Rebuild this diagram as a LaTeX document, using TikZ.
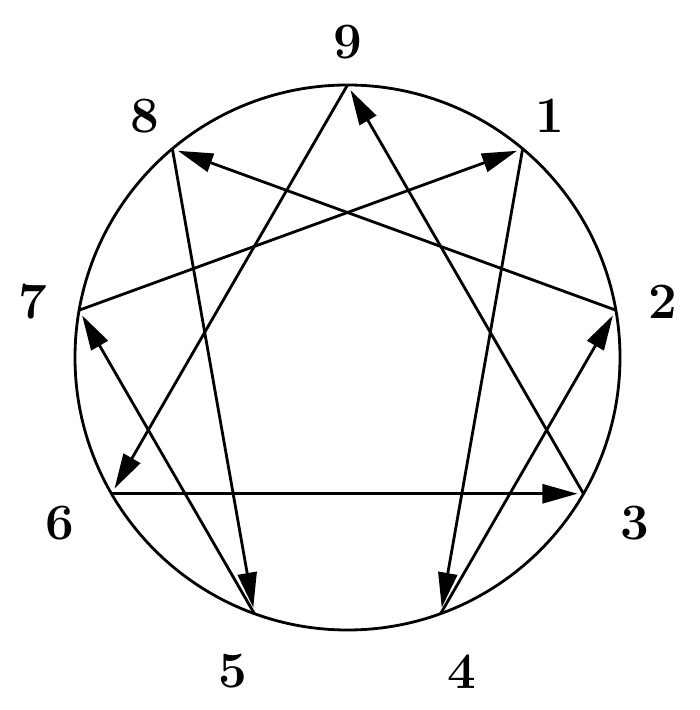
\documentclass[tikz,border=0pt]{standalone}
\usetikzlibrary{arrows.meta,calc}
\begin{document}
\begin{tikzpicture}[line width=1.6pt,
    tip/.style={-{Triangle[length=0.7cm,width=0.38cm]},shorten >=0.12cm},
    num/.style={font=\fontsize{29}{30}\selectfont\bfseries}]
    \useasboundingbox (0,0) rectangle (14,14.2);
    \coordinate (C) at (6.95,7.05);
    \draw (C) circle (5.45);
    \coordinate (P9) at ($(C)+(90:5.45)$);
    \coordinate (P1) at ($(C)+(50:5.45)$);
    \coordinate (P2) at ($(C)+(10:5.45)$);
    \coordinate (P3) at ($(C)+(-30:5.45)$);
    \coordinate (P4) at ($(C)+(-70:5.45)$);
    \coordinate (P5) at ($(C)+(-110:5.45)$);
    \coordinate (P6) at ($(C)+(-150:5.45)$);
    \coordinate (P7) at ($(C)+(170:5.45)$);
    \coordinate (P8) at ($(C)+(130:5.45)$);
    \node[num] (L9) at ($(C)+(90:6.3)$) {9};
    \node[num] (L1) at ($(C)+(50:6.3)$) {1};
    \node[num] (L2) at ($(C)+(10:6.4)$) {2};
    \node[num] (L3) at ($(C)+(-30:6.64)$) {3};
    \node[num] (L4) at ($(C)+(-70:6.68)$) {4};
    \node[num] (L5) at ($(C)+(-110:6.68)$) {5};
    \node[num] (L6) at ($(C)+(-150:6.64)$) {6};
    \node[num] (L7) at ($(C)+(170:6.4)$) {7};
    \node[num] (L8) at ($(C)+(130:6.3)$) {8};
    \path [tip](P9) edge (P6);
    \path [tip](P6) edge (P3);
    \path [tip](P3) edge (P9);
    \path [tip](P1) edge (P4);
    \path [tip](P4) edge (P2);
    \path [tip](P2) edge (P8);
    \path [tip](P8) edge (P5);
    \path [tip](P5) edge (P7);
    \path [tip](P7) edge (P1);
\end{tikzpicture}
\end{document}
